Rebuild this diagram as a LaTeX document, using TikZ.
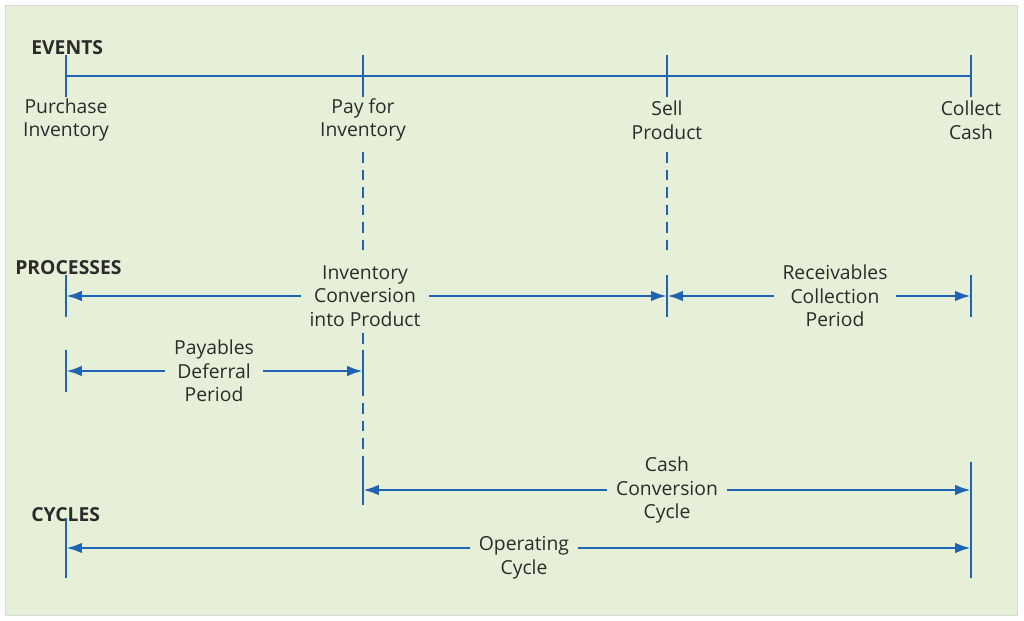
\documentclass[tikz,border=0pt]{standalone}
\usepackage{fontspec}
\setmainfont{Open Sans}
\usetikzlibrary{arrows.meta}
\definecolor{bgcol}{HTML}{E6F0D8}
\definecolor{linecol}{HTML}{1F63B3}
\definecolor{txtcol}{HTML}{2B2B2B}
\tikzset{
  lbl/.style={text=txtcol, font=\fontsize{11}{13.5}\selectfont, align=center, inner sep=1pt},
  gap/.style={lbl, fill=bgcol, inner xsep=5pt},
  head/.style={text=txtcol, font=\fontsize{11}{13}\selectfont\bfseries, anchor=west, inner sep=0pt},
  tl/.style={linecol, line width=1.6pt},
  arr/.style={linecol, line width=1.6pt, {Latex[length=9pt,width=6pt]}-{Latex[length=9pt,width=6pt]}},
  dashline/.style={linecol, line width=1.6pt, dash pattern=on 6pt off 4pt},
}
\begin{document}
\begin{tikzpicture}[x=0.02cm, y=-0.02cm]
        \useasboundingbox (0,0) rectangle (1024,621);
        \fill[white] (0,0) rectangle (1024,621);
        \filldraw[fill=bgcol, draw=black!15] (5,5) rectangle (1017,615);
        % events
        \node[head] (hev) at (31,48) {EVENTS};
        \coordinate (e1) at (66,76);
        \coordinate (e2) at (363,76);
        \coordinate (e3) at (667,76);
        \coordinate (e4) at (971,76);
        \draw[tl] (e1) -- (e4);
        \foreach \e in {e1,e2,e3,e4}
            \draw[tl] ([yshift=12]\e) -- ([yshift=-12]\e);
        \node[lbl] (l1) at (66,120) {Purchase\\Inventory};
        \node[lbl] (l2) at (363,120) {Pay for\\Inventory};
        \node[lbl] (l3) at (667,120) {Sell\\Product};
        \node[lbl] (l4) at (971,120) {Collect\\Cash};
        % processes
        \node[head] (hpr) at (15,268) {PROCESSES};
        \draw[dashline] (363,152) -- (363,252);
        \draw[dashline] (667,152) -- (667,252);
        \draw[dashline] (363,333) -- (363,505);
        \coordinate (p1) at (66,296);
        \coordinate (p2) at (667,296);
        \coordinate (p3) at (971,296);
        \draw[arr] (p1) -- (p2);
        \draw[arr] (p2) -- (p3);
        \foreach \p in {p1,p2,p3}
            \draw[tl] ([yshift=12]\p) -- ([yshift=-12]\p);
        \node[gap] (icp) at (365,296) {Inventory\\Conversion\\into Product};
        \node[gap] (rcp) at (835,296) {Receivables\\Collection\\Period};
        \coordinate (d1) at (66,371);
        \coordinate (d2) at (363,371);
        \draw[arr] (d1) -- (d2);
        \draw[tl] ([yshift=12]d1) -- ([yshift=-12]d1);
        \draw[tl] ([yshift=12]d2) -- ([yshift=-12]d2);
        \node[gap] (pdp) at (214,371) {Payables\\Deferral\\Period};
        % cycles
        \node[head] (hcy) at (31,515) {CYCLES};
        \coordinate (c1) at (363,490);
        \coordinate (c2) at (971,490);
        \draw[arr] (c1) -- (c2);
        \draw[tl] (363,460) -- (363,505);
        \draw[tl] ([yshift=16]c2) -- ([yshift=-16]c2);
        \node[gap] (ccc) at (667,490) {Cash\\Conversion\\Cycle};
        \coordinate (o1) at (66,548);
        \coordinate (o2) at (971,548);
        \draw[arr] (o1) -- (o2);
        \draw[tl] ([yshift=17]o1) -- ([yshift=-17]o1);
        \draw[tl] ([yshift=17]o2) -- ([yshift=-17]o2);
        \node[gap, inner ysep=0pt] (opc) at (524,558) {Operating\\Cycle};
\end{tikzpicture}
\end{document}
